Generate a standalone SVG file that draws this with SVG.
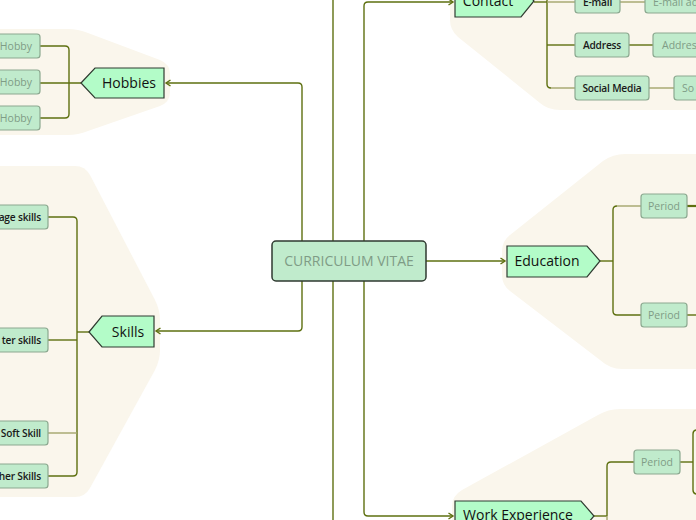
<svg xmlns="http://www.w3.org/2000/svg" width="696" height="520" viewBox="0 0 696 520">
<style>
.blob{fill:#faf6ec}
.c{fill:none;stroke:#5e7010;stroke-width:1.4}
.cl{fill:none;stroke:#a3a56c;stroke-width:1.4}
.topic{fill:#b3fcc8;stroke:#2f3a30;stroke-width:1.2}
.sub{fill:#c0ebcc;stroke:#8ba88f;stroke-width:1.2}
.t{font-family:"Open Sans","Noto Sans",sans-serif;fill:#111}
.tt{font-size:14px;text-anchor:middle;font-weight:500}
.ts{font-size:10.2px;fill:#1a1a1a;font-weight:600;letter-spacing:-0.2px}
.tg{font-size:10.5px;fill:#7f9c86}
</style>
<defs>
<marker id="arr" markerUnits="userSpaceOnUse" markerWidth="8" markerHeight="8" refX="5" refY="4" orient="auto">
<path d="M0.5,1 L5,4 L0.5,7" fill="none" stroke="#5e7010" stroke-width="1.4"/>
</marker>
</defs>
<rect width="696" height="520" fill="#ffffff"/>
<g id="blobs">
<path class="blob" d="M0,29 H68 Q78,29 88,33 L160,60 Q170,64 170,74 V92 Q170,102 160,106 L88,131 Q78,135 68,135 H0 Z"/>
<path class="blob" d="M0,166 H75 Q85,166 90,175 L155,300 Q160,310 160,320 V350 Q160,360 155,370 L90,488 Q85,497 75,497 H0 Z"/>
<path class="blob" d="M450,-5 V20 Q450,30 458,37 L540,103 Q548,110 560,110 H696 V-5 Z"/>
<path class="blob" d="M696,154 H625 Q613,154 603,161 L510,235 Q502,241 502,251 V275 Q502,285 510,291 L600,360 Q610,369 622,369 H696 Z"/>
<path class="blob" d="M696,409 H620 Q608,409 598,415 L462,490 Q452,496 452,506 V525 H696 Z"/>
</g>
<g id="connectors">
<path class="c" d="M333,0 V520"/>
<path class="c" d="M302,241 V87 Q302,83 298,83 H166" marker-end="url(#arr)"/>
<path class="c" d="M302,281 V327 Q302,331 298,331 H156" marker-end="url(#arr)"/>
<path class="c" d="M364,241 V6 Q364,2 368,2 H453" marker-end="url(#arr)"/>
<path class="c" d="M364,281 V512 Q364,516 368,516 H453" marker-end="url(#arr)"/>
<path class="c" d="M426,261 H505" marker-end="url(#arr)"/>
<path class="c" d="M81,83 H40"/>
<path class="c" d="M40,46 H65 Q69,46 69,50 V114 Q69,118 65,118 H40"/>
<path class="c" d="M89,332 H77"/>
<path class="c" d="M48,217 H73 Q77,217 77,221 V472 Q77,476 73,476 H48"/>
<path class="c" d="M77,340 H48"/>
<path class="cl" d="M77,433 H48"/>
<path class="c" d="M534,2 H547"/>
<path class="c" d="M547,-10 V84 Q547,88 551,88"/>
<path class="cl" d="M551,88 H575"/>
<path class="cl" d="M547,2 H575"/>
<path class="c" d="M547,45 H575"/>
<path class="cl" d="M620,2 H645"/>
<path class="c" d="M629,45 H653"/>
<path class="cl" d="M649,88 H674"/>
<path class="c" d="M600,261 H613"/>
<path class="c" d="M617,206 Q613,206 613,210 V311 Q613,315 617,315 H641"/>
<path class="cl" d="M617,206 H641"/>
<path class="c" d="M687,206 H696" style="stroke-width:2.2"/>
<path class="c" d="M687,315 H696"/>
<path class="c" d="M594,516 H607"/>
<path class="c" d="M634,462 H611 Q607,462 607,466 V516"/>
<path class="cl" d="M607,516 V525"/>
<path class="c" d="M680,462 H693"/>
<path class="c" d="M697,430 Q693,430 693,434 V490 Q693,494 697,494"/>
</g>
<g id="center">
<rect x="272" y="241" width="154" height="40" rx="4" fill="#c0ebcc" stroke="#2f3a30" stroke-width="1.5"/>
<text class="t tt" x="349" y="266" style="fill:#7f9c86">CURRICULUM VITAE</text>
</g>
<g id="hobbies">
<path class="topic" d="M81,83 L95,68 H164 V98 H95 Z"/>
<text class="t tt" x="129" y="88">Hobbies</text>
</g>
<g id="hobby1"><rect class="sub" x="-20" y="34" width="60" height="24" rx="3"/><text class="t tg" x="32" y="50" text-anchor="end">Hobby</text></g>
<g id="hobby2"><rect class="sub" x="-20" y="70" width="60" height="24" rx="3"/><text class="t tg" x="32" y="86" text-anchor="end">Hobby</text></g>
<g id="hobby3"><rect class="sub" x="-20" y="106" width="60" height="24" rx="3"/><text class="t tg" x="32" y="122" text-anchor="end">Hobby</text></g>
<g id="skills">
<path class="topic" d="M89,332 L102,316 H154 V347 H102 Z"/>
<text class="t tt" x="128" y="337">Skills</text>
</g>
<g id="skill1"><rect class="sub" x="-40" y="205" width="88" height="24" rx="3"/><text class="t ts" x="41" y="221" text-anchor="end">age skills</text></g>
<g id="skill2"><rect class="sub" x="-40" y="328" width="88" height="24" rx="3"/><text class="t ts" x="41" y="344" text-anchor="end">ter skills</text></g>
<g id="skill3"><rect class="sub" x="-40" y="421" width="88" height="24" rx="3"/><text class="t ts" x="41" y="437" text-anchor="end">Soft Skill</text></g>
<g id="skill4"><rect class="sub" x="-40" y="464" width="88" height="24" rx="3"/><text class="t ts" x="41" y="480" text-anchor="end">her Skills</text></g>
<g id="contact">
<path class="topic" d="M455,-14 H521 L534,1 L521,17 H455 Z"/>
<text class="t tt" x="488" y="6">Contact</text>
</g>
<g id="email"><rect class="sub" x="575" y="-10" width="45" height="23" rx="3"/><text class="t ts" x="597.5" y="6" text-anchor="middle">E-mail</text></g>
<g id="emailaddr"><rect class="sub" x="645" y="-10" width="80" height="23" rx="3"/><text class="t tg" x="653" y="6">E-mail ad</text></g>
<g id="address"><rect class="sub" x="575" y="33" width="54" height="24" rx="3"/><text class="t ts" x="602" y="49" text-anchor="middle">Address</text></g>
<g id="address2"><rect class="sub" x="653" y="33" width="60" height="24" rx="3"/><text class="t tg" x="662" y="49">Addres</text></g>
<g id="social"><rect class="sub" x="575" y="76" width="74" height="24" rx="3"/><text class="t ts" x="612" y="92" text-anchor="middle">Social Media</text></g>
<g id="social2"><rect class="sub" x="674" y="76" width="40" height="24" rx="3"/><text class="t tg" x="682" y="92">So</text></g>
<g id="education">
<path class="topic" d="M507,246 H587 L600,261 L587,277 H507 Z"/>
<text class="t tt" x="547" y="266">Education</text>
</g>
<g id="edu-period1"><rect class="sub" x="641" y="194" width="46" height="24" rx="3"/><text class="t tg" x="664" y="210" text-anchor="middle">Period</text></g>
<g id="edu-period2"><rect class="sub" x="641" y="303" width="46" height="24" rx="3"/><text class="t tg" x="664" y="319" text-anchor="middle">Period</text></g>
<g id="work">
<path class="topic" d="M455,501 H581 L594,516 L581,531 H455 Z"/>
<text class="t tt" x="518" y="520">Work Experience</text>
</g>
<g id="work-period"><rect class="sub" x="634" y="450" width="46" height="24" rx="3"/><text class="t tg" x="657" y="466" text-anchor="middle">Period</text></g>
</svg>
